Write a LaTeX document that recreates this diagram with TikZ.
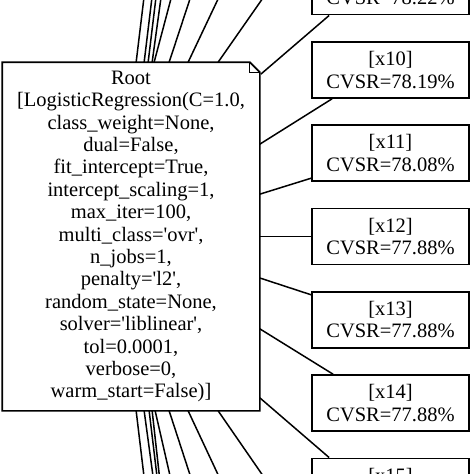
\documentclass[tikz,border=0pt]{standalone}
\usepackage{fontspec}
\setmainfont{Liberation Serif}
\usetikzlibrary{calc}
\begin{document}
\begin{tikzpicture}[x=1pt,y=-1pt,line width=1.7pt,
  txt/.style={font=\fontsize{20.5}{22.4}\selectfont, align=center, inner sep=0pt},
  cvbox/.style={txt, draw, minimum width=157pt, minimum height=56pt},
  edge/.style={line width=1.5pt}]
\useasboundingbox (0,0) rectangle (474,474);
\fill[white] (0,0) rectangle (474,474);
\clip (0,0) rectangle (474,474);
% root node (note shape drawn from its anchors)
\node[txt, minimum width=256pt, minimum height=347pt] (root) at (131,236.5)
 {Root\\{[}LogisticRegression(C=1.0,\\class\_weight=None,\\dual=False,\\fit\_intercept=True,\\intercept\_scaling=1,\\max\_iter=100,\\multi\_class=\textquotesingle ovr\textquotesingle,\\n\_jobs=1,\\penalty=\textquotesingle l2\textquotesingle,\\random\_state=None,\\solver=\textquotesingle liblinear\textquotesingle,\\tol=0.0001,\\verbose=0,\\warm\_start=False){]}};
\draw (root.north west) -- ($(root.north east)+(-10,0)$) -- ($(root.north east)+(0,10)$) -- (root.south east) -- (root.south west) -- cycle;
\draw[line width=1.1pt] ($(root.north east)+(-10,0)$) -- ($(root.north east)+(-10,10)$) -- ($(root.north east)+(0,10)$);
% right boxes
\node[cvbox] (b9)  at (390.5,-13.4) {\phantom{[x9]}\\CVSR=78.22\%};
\node[cvbox] (b10) at (390.5,69.9)  {{[x10]}\\CVSR=78.19\%};
\node[cvbox] (b11) at (390.5,153.2) {{[x11]}\\CVSR=78.08\%};
\node[cvbox] (b12) at (390.5,236.5) {{[x12]}\\CVSR=77.88\%};
\node[cvbox] (b13) at (390.5,319.8) {{[x13]}\\CVSR=77.88\%};
\node[cvbox] (b14) at (390.5,403.1) {{[x14]}\\CVSR=77.88\%};
\node[cvbox] (b15) at (390.5,486.4) {{[x15]}\\\phantom{CVSR=77.88\%}};
% connectors to right boxes
\draw[edge] ($(root.north east)+(1,12)$) -- ($(b9.south west)+(18,0)$);
\draw[edge] ($(root.north east)+(0,82)$) -- ($(b10.south west)+(21,0)$);
\draw[edge] ($(root.north east)+(0,132)$) -- ($(b11.west)+(0,25)$);
\draw[edge] (root.east) -- (b12.west);
\draw[edge] ($(root.east)+(0,41.5)$) -- ($(b13.west)+(0,-25)$);
\draw[edge] ($(root.south east)+(0,-82)$) -- ($(b14.north west)+(22,0)$);
\draw[edge] ($(root.south east)+(0,-13)$) -- ($(b15.north west)+(18,0)$);
% connectors leaving the top
\foreach \i/\a/\b in {1/134/147.3, 2/142/155.3, 3/146/159.3, 4/150/164.8, 5/152/178.6, 6/167/199.5, 7/186/231.8, 8/216/282.5}{
  \coordinate (t\i) at (\b,-30);
  \draw[edge] ($(root.north west)+(\a,0)$) -- (t\i);
}
% connectors leaving the bottom
\foreach \i/\a/\b in {1/134/147.3, 2/142/156.8, 3/147/160.3, 4/150/162.5, 5/153/176.5, 6/167/199.5, 7/186/231.8, 8/216/282.5}{
  \coordinate (u\i) at (\b,504);
  \draw[edge] ($(root.south west)+(\a,0)$) -- (u\i);
}
\end{tikzpicture}
\end{document}
